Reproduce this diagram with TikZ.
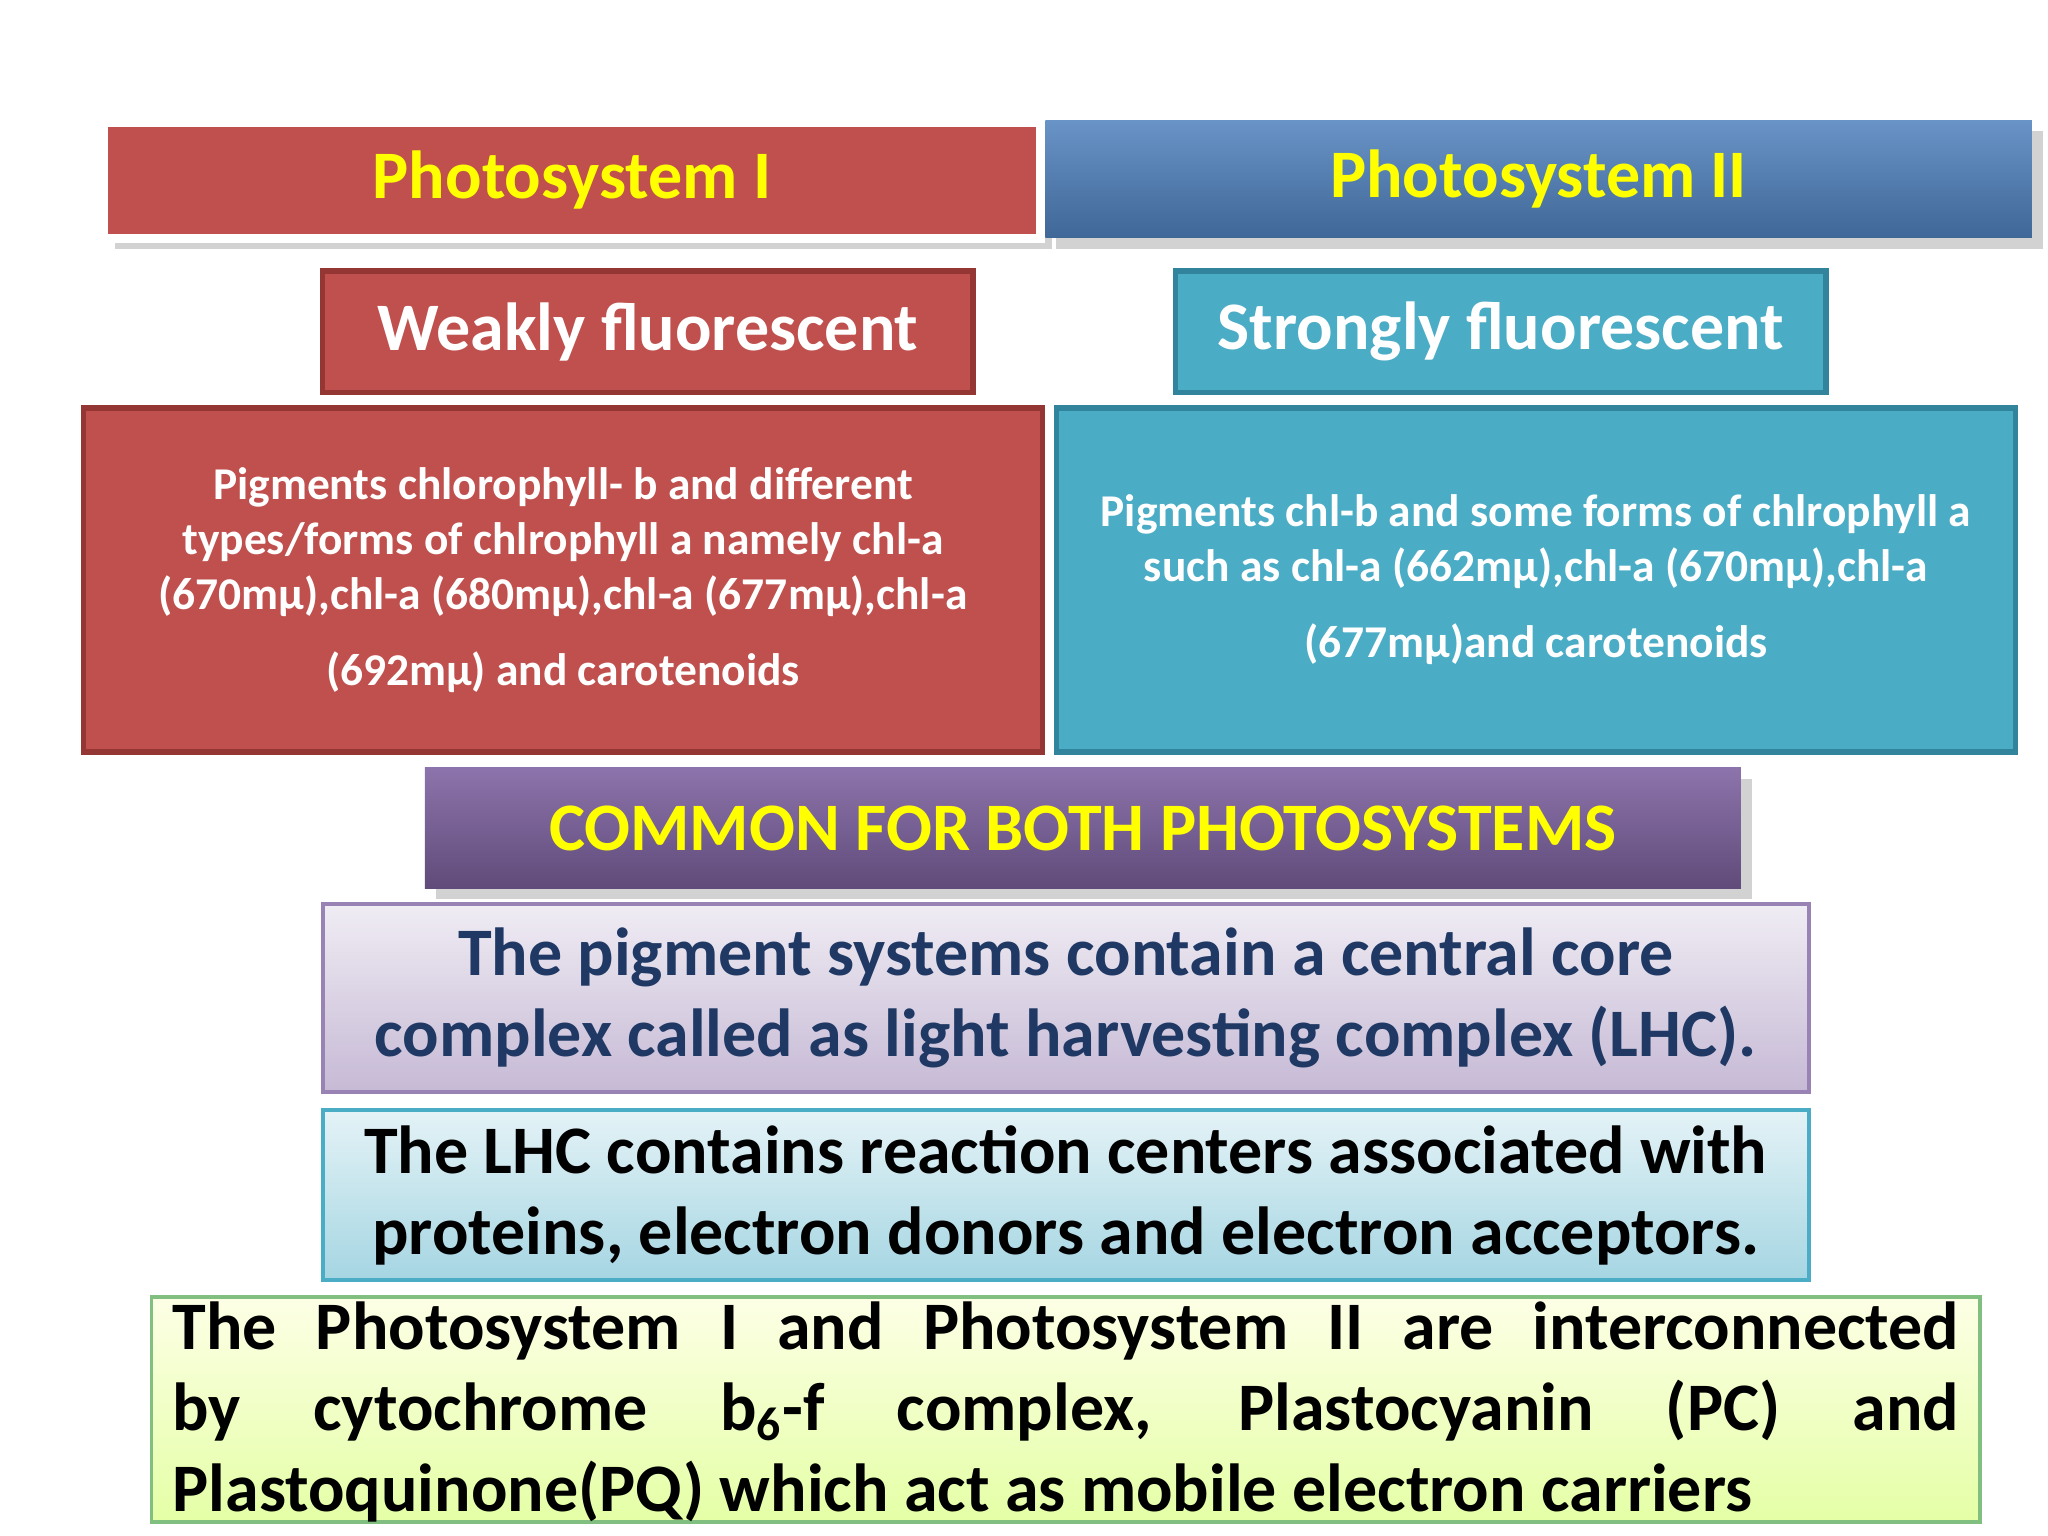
\documentclass[tikz,border=0pt]{standalone}
\usepackage{fontspec}
\setmainfont{Carlito}
\usetikzlibrary{shadows}
\definecolor{rd}{HTML}{C0504D}
\definecolor{rdb}{HTML}{943634}
\definecolor{bl}{HTML}{4F81BD}
\definecolor{tl}{HTML}{4BACC6}
\definecolor{tlb}{HTML}{31849B}
\definecolor{pu}{HTML}{8064A2}
\definecolor{ye}{HTML}{FFFF00}
\definecolor{nv}{HTML}{1F3864}
\tikzset{
 box/.style={rectangle, inner sep=0pt, align=center, font=\bfseries},
 hdr/.style={box, font=\bfseries\fontsize{14.8}{18}\selectfont, text=ye, drop shadow={opacity=0.35}},
 sub/.style={box, draw, line width=1.2pt, font=\bfseries\fontsize{14.8}{18}\selectfont, text=white},
 body/.style={box, draw, line width=1.2pt},
 bodytext/.style={box, font=\bfseries\fontsize{9.9}{12}\selectfont, text=white},
 big/.style={box, draw, line width=0.8pt, font=\bfseries\fontsize{14.8}{17.6}\selectfont},
}
\begin{document}
\begin{tikzpicture}[x=0.01cm,y=-0.01cm]
\useasboundingbox[fill=white] (0,0) rectangle (1568,1176);
\node[hdr, fill=rd, draw=white, line width=2pt, minimum width=7.17cm, minimum height=0.89cm] (h1) at (438,138) {Photosystem I};
\node[hdr, top color=bl!85!white, bottom color=bl!80!black, minimum width=7.55cm, minimum height=0.9cm] (h2) at (1178,137) {Photosystem II};
\node[sub, fill=rd, draw=rdb, minimum width=4.98cm, minimum height=0.93cm] (w) at (496,254) {Weakly fluorescent};
\node[sub, fill=tl, draw=tlb, minimum width=4.98cm, minimum height=0.93cm] (s) at (1149,254) {Strongly fluorescent};
\node[body, fill=rd, draw=rdb, minimum width=7.34cm, minimum height=2.63cm] (b1) at (431,444) {};
\node[bodytext] (t1) at (431,444) {Pigments chlorophyll- b and different\\types/forms of chlrophyll a namely chl-a\\(670mμ),chl-a (680mμ),chl-a (677mμ),chl-a\\[4.5pt](692mμ) and carotenoids};
\node[body, fill=tl, draw=tlb, minimum width=7.34cm, minimum height=2.63cm] (b2) at (1176,444) {};
\node[bodytext] (t2) at (1176,444) {Pigments chl-b and some forms of chlrophyll a\\such as chl-a (662mμ),chl-a (670mμ),chl-a\\[4.5pt](677mμ)and carotenoids};
\node[hdr, top color=pu!90!white, bottom color=pu!75!black, minimum width=10.07cm, minimum height=0.92cm] (c) at (829,634) {COMMON FOR BOTH PHOTOSYSTEMS};
\node[big, top color=pu!12!white, bottom color=pu!45!white, draw=pu!80, text=nv, minimum width=11.37cm, minimum height=1.44cm] (p1) at (816,764) {The pigment systems contain a central core\\complex called as light harvesting complex (LHC).};
\node[big, top color=tl!15!white, bottom color=tl!50!white, draw=tl, text=black, minimum width=11.37cm, minimum height=1.3cm] (p2) at (816,915) {The LHC contains reaction centers associated with\\proteins, electron donors and electron acceptors.};
\node[big, top color=green!8!yellow!10!white, bottom color=green!30!yellow!35!white, draw=green!50!black!50, minimum width=13.99cm, minimum height=1.72cm] (p3) at (816,1079) {};
\node[box, text=black, font=\bfseries\fontsize{14.8}{17.6}\selectfont] (t3) at (816,1081) {\parbox{13.67cm}{\hyphenpenalty=10000\exhyphenpenalty=10000 The Photosystem I and Photosystem II are interconnected by cytochrome b\textsubscript{6}-f complex, Plastocyanin (PC) and Plastoquinone(PQ) which act as mobile electron carriers}};
\end{tikzpicture}
\end{document}
